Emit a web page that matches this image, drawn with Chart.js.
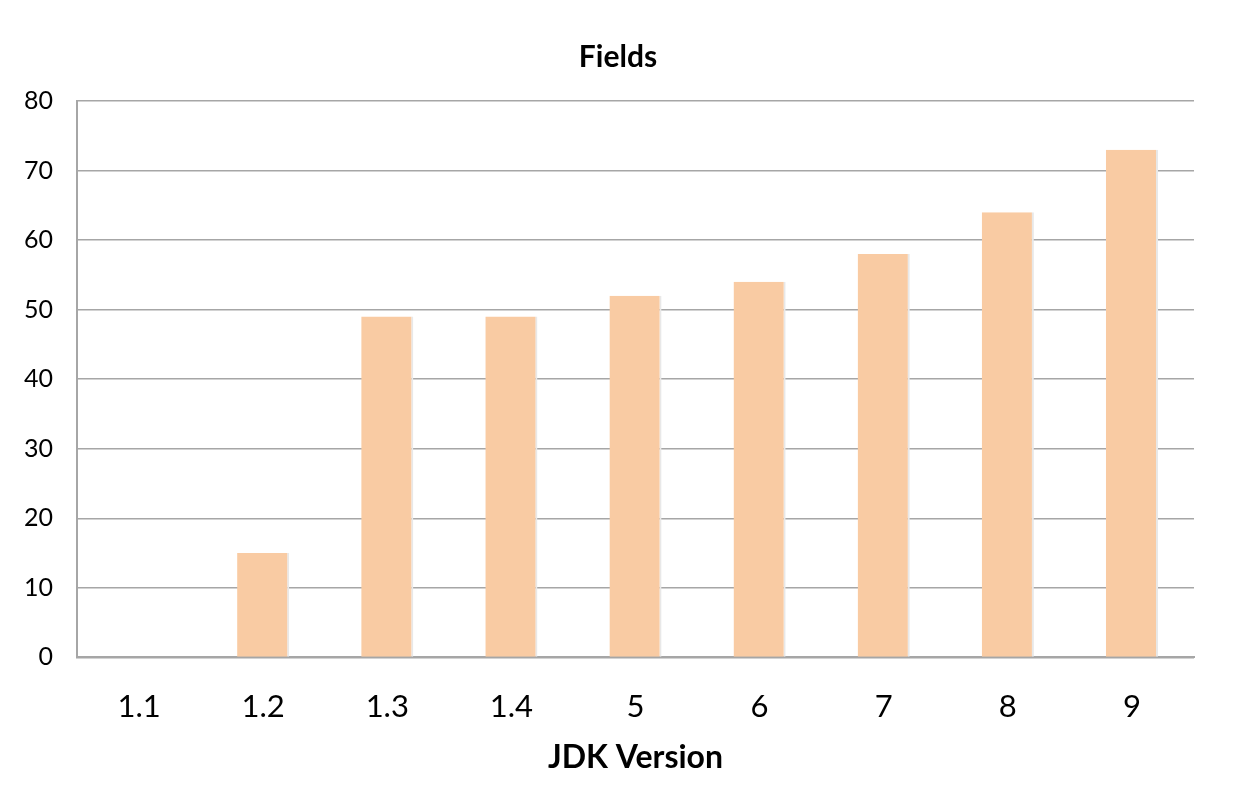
<!DOCTYPE html>
<html lang="en">
  <head>
    <meta charset="UTF-8" />
    <title>Fields</title>
    <script src="https://cdn.jsdelivr.net/npm/chart.js"></script>
    <style>
      html, body {
        margin: 0;
        padding: 0;
        background: #fff;
      }
      .wrap {
        width: 1236px;
        height: 802px;
      }
    </style>
  </head>
  <body>
    <div class="wrap">
      <canvas id="fields-chart"></canvas>
    </div>

    <script>
      // JDK versions and field counts
      const versions = ["1.1", "1.2", "1.3", "1.4", "5", "6", "7", "8", "9"];
      const fieldCounts = [0, 15, 49, 49, 52, 54, 58, 64, 73];
      const yTicks = [0, 10, 20, 30, 40, 50, 60, 70, 80];

      const fontFamily = "Lato, 'Open Sans', sans-serif";
      const gridGray = "#A6A6A6";

      const ctx = document.getElementById("fields-chart").getContext("2d");

      new Chart(ctx, {
        type: "bar",
        data: {
          labels: versions,
          datasets: [
            {
              label: "Fields",
              data: fieldCounts,
              backgroundColor: "#F9CBA3",
              borderColor: "#E8E8E8",
              borderWidth: { top: 0, left: 0, right: 2, bottom: 0 },
              borderSkipped: false,
              categoryPercentage: 1,
              barPercentage: 0.42,
            },
          ],
        },
        options: {
          responsive: true,
          maintainAspectRatio: false,
          animation: false,
          layout: {
            padding: { left: 0, right: 0, top: 33, bottom: 25 },
          },
          plugins: {
            legend: { display: false },
            tooltip: { enabled: false },
            title: {
              display: true,
              text: "Fields",
              color: "#000",
              font: { family: fontFamily, size: 30, weight: "bold" },
              padding: { top: 6, bottom: 26 },
            },
          },
          scales: {
            x: {
              grid: { display: false, drawTicks: false },
              border: { display: true, color: gridGray, width: 2 },
              ticks: {
                color: "#000",
                font: { family: fontFamily, size: 31 },
                padding: 31,
              },
              title: {
                display: true,
                text: "JDK Version",
                color: "#000",
                font: { family: fontFamily, size: 32, weight: "bold" },
                padding: { top: -18, bottom: 0 },
              },
            },
            y: {
              min: 0,
              max: 80,
              afterBuildTicks: (axis) => {
                axis.ticks = yTicks.map((v) => ({ value: v }));
              },
              grid: { color: gridGray, lineWidth: 1.5, drawTicks: false },
              border: { display: true, color: gridGray, width: 2 },
              ticks: {
                color: "#000",
                font: { family: fontFamily, size: 25 },
                padding: 24,
              },
            },
            // empty right-hand gutter so the title stays centred on the page
            gutter: {
              type: "linear",
              position: "right",
              grid: { display: false, drawTicks: false },
              border: { display: false },
              ticks: { display: false },
              afterFit: (scale) => {
                scale.width = 42;
              },
            },
          },
        },
      });
    </script>
  </body>
</html>
